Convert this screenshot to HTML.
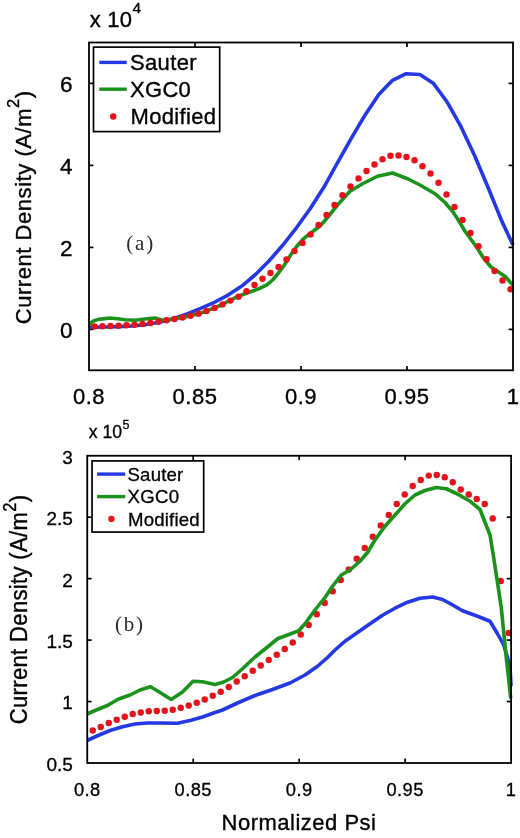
<!DOCTYPE html>
<html><head><meta charset="utf-8"><title>Current Density vs Normalized Psi</title>
<style>
html,body{margin:0;padding:0;background:#fff;}
body{width:520px;height:838px;overflow:hidden;}
svg{display:block;filter:blur(0.35px);}
text{font-family:"Liberation Sans",Arial,Helvetica,sans-serif;fill:#000;}
.t22{font-size:22px;letter-spacing:0.5px;stroke:#000;stroke-width:0.35px;}
.t18{font-size:18.3px;letter-spacing:0.4px;stroke:#000;stroke-width:0.3px;}
.sub{font-family:"Liberation Serif","Noto Serif CJK SC",serif;font-size:21px;letter-spacing:1px;fill:#2a2a2a;}
</style></head><body>
<svg width="520" height="838" viewBox="0 0 520 838">
<rect width="520" height="838" fill="#fff"/>

<g id="plot-a">
<g stroke="#000" stroke-width="1.7"><line x1="195.00" y1="370.30" x2="195.00" y2="365.90"/><line x1="195.00" y1="42.50" x2="195.00" y2="46.90"/><line x1="301.00" y1="370.30" x2="301.00" y2="365.90"/><line x1="301.00" y1="42.50" x2="301.00" y2="46.90"/><line x1="407.00" y1="370.30" x2="407.00" y2="365.90"/><line x1="407.00" y1="42.50" x2="407.00" y2="46.90"/><line x1="89.00" y1="329.40" x2="93.40" y2="329.40"/><line x1="513.00" y1="329.40" x2="508.60" y2="329.40"/><line x1="89.00" y1="247.40" x2="93.40" y2="247.40"/><line x1="513.00" y1="247.40" x2="508.60" y2="247.40"/><line x1="89.00" y1="165.40" x2="93.40" y2="165.40"/><line x1="513.00" y1="165.40" x2="508.60" y2="165.40"/><line x1="89.00" y1="83.40" x2="93.40" y2="83.40"/><line x1="513.00" y1="83.40" x2="508.60" y2="83.40"/></g>
<polyline fill="none" stroke="#2439e3" stroke-width="3.6" stroke-linejoin="round" stroke-linecap="butt" points="89.50,327.41 104.80,327.03 118.50,326.66 132.20,325.94 145.90,324.59 159.60,322.30 173.30,318.78 187.00,314.04 200.70,308.43 214.40,302.27 228.10,295.11 241.80,286.02 255.50,274.50 269.20,260.75 282.90,245.01 296.60,227.53 310.30,208.55 324.00,187.02 337.70,162.49 351.40,138.09 365.10,114.91 378.80,94.40 392.50,80.30 406.20,73.70 419.90,74.50 433.60,83.60 447.30,102.30 461.00,126.71 474.70,155.72 488.40,188.19 502.10,221.87 513.00,244.95"/>
<polyline fill="none" stroke="#1a921c" stroke-width="3.6" stroke-linejoin="round" stroke-linecap="butt" points="89.50,325.20 91.50,322.30 94.00,320.80 98.50,319.40 110.00,318.00 117.50,318.70 125.00,319.75 135.00,320.25 145.00,319.00 155.00,318.00 162.50,320.20 170.00,319.60 185.00,317.00 197.50,314.00 205.00,311.70 220.00,305.50 237.50,296.50 249.20,292.30 258.50,288.90 266.90,284.80 273.10,279.50 279.20,272.00 284.60,264.60 290.80,254.80 296.90,246.20 303.10,239.20 307.70,235.40 313.80,230.80 320.00,226.00 325.00,220.50 337.50,205.00 350.00,191.25 362.50,183.75 377.50,176.25 392.50,173.00 407.50,178.75 420.00,185.00 435.00,193.75 445.00,202.50 452.50,211.25 457.50,218.75 465.00,231.25 476.00,246.25 483.50,258.00 491.00,267.00 498.50,272.00 505.50,276.80 512.70,285.00"/>
<g fill="#ea1019"><circle cx="94.50" cy="326.40" r="3.2"/><circle cx="102.50" cy="326.20" r="3.2"/><circle cx="110.50" cy="326.00" r="3.2"/><circle cx="118.50" cy="325.80" r="3.2"/><circle cx="126.50" cy="325.20" r="3.2"/><circle cx="134.50" cy="324.70" r="3.2"/><circle cx="142.50" cy="324.00" r="3.2"/><circle cx="150.50" cy="323.00" r="3.2"/><circle cx="158.50" cy="321.80" r="3.2"/><circle cx="166.50" cy="320.30" r="3.2"/><circle cx="174.50" cy="319.00" r="3.2"/><circle cx="182.50" cy="317.50" r="3.2"/><circle cx="190.50" cy="315.80" r="3.2"/><circle cx="198.50" cy="313.80" r="3.2"/><circle cx="206.50" cy="311.00" r="3.2"/><circle cx="214.50" cy="308.00" r="3.2"/><circle cx="222.50" cy="304.40" r="3.2"/><circle cx="230.50" cy="300.60" r="3.2"/><circle cx="238.50" cy="296.75" r="3.2"/><circle cx="246.50" cy="291.30" r="3.2"/><circle cx="254.50" cy="285.00" r="3.2"/><circle cx="262.50" cy="278.75" r="3.2"/><circle cx="270.50" cy="273.00" r="3.2"/><circle cx="278.50" cy="267.00" r="3.2"/><circle cx="286.50" cy="259.50" r="3.2"/><circle cx="294.50" cy="251.00" r="3.2"/><circle cx="302.50" cy="243.00" r="3.2"/><circle cx="310.50" cy="234.50" r="3.2"/><circle cx="318.50" cy="225.00" r="3.2"/><circle cx="326.50" cy="215.00" r="3.2"/><circle cx="334.50" cy="205.00" r="3.2"/><circle cx="342.50" cy="195.25" r="3.2"/><circle cx="350.50" cy="186.50" r="3.2"/><circle cx="358.50" cy="178.50" r="3.2"/><circle cx="366.50" cy="171.00" r="3.2"/><circle cx="374.50" cy="164.50" r="3.2"/><circle cx="382.50" cy="159.25" r="3.2"/><circle cx="390.50" cy="155.75" r="3.2"/><circle cx="398.50" cy="155.50" r="3.2"/><circle cx="406.50" cy="157.00" r="3.2"/><circle cx="414.50" cy="160.25" r="3.2"/><circle cx="422.50" cy="166.25" r="3.2"/><circle cx="430.50" cy="173.50" r="3.2"/><circle cx="438.50" cy="182.75" r="3.2"/><circle cx="446.50" cy="194.50" r="3.2"/><circle cx="454.50" cy="207.00" r="3.2"/><circle cx="462.50" cy="220.00" r="3.2"/><circle cx="470.50" cy="233.00" r="3.2"/><circle cx="478.50" cy="246.25" r="3.2"/><circle cx="486.50" cy="259.25" r="3.2"/><circle cx="494.50" cy="271.00" r="3.2"/><circle cx="502.50" cy="280.50" r="3.2"/><circle cx="510.50" cy="289.25" r="3.2"/></g>
<g stroke="#000" stroke-width="1.8" fill="none"><rect x="89.00" y="42.50" width="424.00" height="327.80"/></g>
<text class="t22" x="89.00" y="403.5" text-anchor="middle">0.8</text>
<text class="t22" x="195.00" y="403.5" text-anchor="middle">0.85</text>
<text class="t22" x="301.00" y="403.5" text-anchor="middle">0.9</text>
<text class="t22" x="407.00" y="403.5" text-anchor="middle">0.95</text>
<text class="t22" x="513.00" y="403.5" text-anchor="middle">1</text>
<text class="t22" x="73" y="337.90" text-anchor="end" style="font-size:22.5px">0</text>
<text class="t22" x="73" y="255.90" text-anchor="end" style="font-size:22.5px">2</text>
<text class="t22" x="73" y="173.90" text-anchor="end" style="font-size:22.5px">4</text>
<text class="t22" x="73" y="91.90" text-anchor="end" style="font-size:22.5px">6</text>
<text class="t22" x="89.7" y="26.6" style="letter-spacing:0.2px">x 10<tspan font-size="15.5" dy="-13.8" dx="0.5">4</tspan></text>
<text class="t22" transform="translate(31.3,207.3) rotate(-90)" text-anchor="middle" style="letter-spacing:0.55px">Current Density (A/m<tspan font-size="16.5" dy="-12">2</tspan><tspan dy="12">)</tspan></text>
<text class="sub" x="126.3" y="250.3" style="letter-spacing:1.8px">(a)</text>
<rect x="93.5" y="47.1" width="126.2" height="84.5" fill="#fff" stroke="#000" stroke-width="1.7"/>
<line x1="99.25" x2="126.75" y1="62.4" y2="62.4" stroke="#2439e3" stroke-width="3.4"/>
<line x1="99.25" x2="126.75" y1="89.2" y2="89.2" stroke="#1a921c" stroke-width="3.4"/>
<circle cx="113.2" cy="116.5" r="3.2" fill="#ea1019"/>
<text class="t22" x="130" y="69.8" style="letter-spacing:0.35px">Sauter</text>
<text class="t22" x="130" y="96.7" style="letter-spacing:0.3px">XGC0</text>
<text class="t22" x="130.5" y="124.2" style="letter-spacing:0.35px">Modified</text>
</g>
<g id="plot-b">
<g stroke="#000" stroke-width="1.7"><line x1="193.21" y1="763.00" x2="193.21" y2="758.60"/><line x1="193.21" y1="455.75" x2="193.21" y2="460.15"/><line x1="299.18" y1="763.00" x2="299.18" y2="758.60"/><line x1="299.18" y1="455.75" x2="299.18" y2="460.15"/><line x1="405.14" y1="763.00" x2="405.14" y2="758.60"/><line x1="405.14" y1="455.75" x2="405.14" y2="460.15"/><line x1="87.25" y1="701.55" x2="91.65" y2="701.55"/><line x1="511.10" y1="701.55" x2="506.70" y2="701.55"/><line x1="87.25" y1="640.10" x2="91.65" y2="640.10"/><line x1="511.10" y1="640.10" x2="506.70" y2="640.10"/><line x1="87.25" y1="578.65" x2="91.65" y2="578.65"/><line x1="511.10" y1="578.65" x2="506.70" y2="578.65"/><line x1="87.25" y1="517.20" x2="91.65" y2="517.20"/><line x1="511.10" y1="517.20" x2="506.70" y2="517.20"/></g>
<polyline fill="none" stroke="#2439e3" stroke-width="3.6" stroke-linejoin="round" stroke-linecap="butt" points="87.00,740.50 97.50,735.75 110.00,730.50 122.50,726.75 135.00,724.00 147.50,723.00 160.00,723.00 177.50,723.25 190.00,720.50 202.50,717.00 215.00,712.50 222.50,710.00 237.50,703.00 255.00,695.50 272.50,689.50 290.00,683.00 305.00,675.00 317.50,666.25 327.50,657.50 335.00,650.00 345.00,641.25 357.50,632.50 370.00,623.75 382.50,615.20 395.00,608.20 407.50,602.20 420.00,598.20 432.50,597.00 442.50,599.50 450.00,603.50 462.50,610.75 477.50,616.25 490.00,621.25 497.50,633.75 503.75,645.00 507.50,657.50 510.20,670.00 511.00,686.00"/>
<g fill="#ea1019"><circle cx="92.75" cy="730.50" r="3.2"/><circle cx="100.75" cy="727.00" r="3.2"/><circle cx="108.75" cy="723.00" r="3.2"/><circle cx="116.75" cy="719.75" r="3.2"/><circle cx="124.75" cy="716.75" r="3.2"/><circle cx="132.75" cy="714.00" r="3.2"/><circle cx="140.75" cy="712.50" r="3.2"/><circle cx="148.75" cy="711.25" r="3.2"/><circle cx="156.75" cy="711.00" r="3.2"/><circle cx="164.75" cy="710.75" r="3.2"/><circle cx="172.75" cy="709.75" r="3.2"/><circle cx="180.75" cy="707.75" r="3.2"/><circle cx="188.75" cy="705.50" r="3.2"/><circle cx="196.75" cy="702.75" r="3.2"/><circle cx="204.75" cy="699.50" r="3.2"/><circle cx="212.75" cy="695.75" r="3.2"/><circle cx="220.75" cy="691.75" r="3.2"/><circle cx="228.75" cy="687.00" r="3.2"/><circle cx="236.75" cy="681.50" r="3.2"/><circle cx="244.75" cy="676.25" r="3.2"/><circle cx="252.75" cy="670.75" r="3.2"/><circle cx="260.75" cy="665.50" r="3.2"/><circle cx="268.75" cy="660.00" r="3.2"/><circle cx="276.75" cy="654.75" r="3.2"/><circle cx="284.75" cy="649.00" r="3.2"/><circle cx="292.75" cy="642.50" r="3.2"/><circle cx="300.75" cy="634.50" r="3.2"/><circle cx="308.75" cy="625.00" r="3.2"/><circle cx="316.75" cy="614.25" r="3.2"/><circle cx="324.75" cy="603.00" r="3.2"/><circle cx="332.75" cy="591.25" r="3.2"/><circle cx="340.75" cy="580.00" r="3.2"/><circle cx="348.75" cy="569.50" r="3.2"/><circle cx="356.75" cy="558.75" r="3.2"/><circle cx="364.75" cy="548.00" r="3.2"/><circle cx="372.75" cy="536.75" r="3.2"/><circle cx="380.75" cy="525.50" r="3.2"/><circle cx="388.75" cy="515.00" r="3.2"/><circle cx="396.75" cy="504.00" r="3.2"/><circle cx="404.75" cy="494.50" r="3.2"/><circle cx="412.75" cy="486.00" r="3.2"/><circle cx="420.75" cy="480.00" r="3.2"/><circle cx="428.75" cy="475.60" r="3.2"/><circle cx="436.75" cy="475.00" r="3.2"/><circle cx="444.75" cy="477.25" r="3.2"/><circle cx="452.75" cy="482.25" r="3.2"/><circle cx="460.75" cy="489.50" r="3.2"/><circle cx="468.75" cy="494.50" r="3.2"/><circle cx="476.75" cy="499.00" r="3.2"/><circle cx="484.75" cy="504.00" r="3.2"/><circle cx="492.75" cy="518.50" r="3.2"/><circle cx="500.75" cy="581.00" r="3.2"/><circle cx="508.75" cy="633.00" r="3.2"/></g>
<polyline fill="none" stroke="#1a921c" stroke-width="3.6" stroke-linejoin="round" stroke-linecap="butt" points="87.00,714.00 97.50,709.50 107.50,705.50 117.50,699.50 130.00,695.00 140.00,690.00 150.50,686.75 160.00,692.50 171.25,699.50 182.50,692.00 193.00,681.25 202.50,681.75 215.00,684.50 223.75,682.00 232.50,677.50 242.50,668.75 255.00,657.00 267.50,647.00 277.50,638.75 287.50,635.00 298.75,630.75 305.00,623.75 315.00,610.00 325.00,597.50 332.50,586.25 341.25,575.00 350.00,570.00 360.00,561.25 367.50,552.50 375.00,540.00 385.00,526.25 395.00,515.00 405.00,503.75 415.00,495.00 425.00,490.50 436.25,487.50 446.25,488.75 457.50,494.00 470.00,501.20 480.00,509.50 490.00,535.00 493.75,558.00 497.50,582.50 501.25,607.50 503.75,632.50 506.25,657.50 508.75,680.00 510.70,698.50"/>
<g stroke="#000" stroke-width="1.8" fill="none"><rect x="87.25" y="455.75" width="423.85" height="307.25"/></g>
<text class="t18" x="87.25" y="796" text-anchor="middle">0.8</text>
<text class="t18" x="193.21" y="796" text-anchor="middle">0.85</text>
<text class="t18" x="299.18" y="796" text-anchor="middle">0.9</text>
<text class="t18" x="405.14" y="796" text-anchor="middle">0.95</text>
<text class="t18" x="511.10" y="796" text-anchor="middle">1</text>
<text class="t18" x="72.8" y="770.90" text-anchor="end" style="font-size:19px;letter-spacing:0px">0.5</text>
<text class="t18" x="72.8" y="709.45" text-anchor="end" style="font-size:19px;letter-spacing:0px">1</text>
<text class="t18" x="72.8" y="648.00" text-anchor="end" style="font-size:19px;letter-spacing:0px">1.5</text>
<text class="t18" x="72.8" y="586.55" text-anchor="end" style="font-size:19px;letter-spacing:0px">2</text>
<text class="t18" x="72.8" y="525.10" text-anchor="end" style="font-size:19px;letter-spacing:0px">2.5</text>
<text class="t18" x="72.8" y="463.65" text-anchor="end" style="font-size:19px;letter-spacing:0px">3</text>
<text class="t18" x="88.8" y="438.1" style="font-size:17.6px;letter-spacing:0px">x 10<tspan font-size="12.5" dy="-9.3" dx="0.4">5</tspan></text>
<text class="t22" transform="translate(27.1,609.4) rotate(-90) scale(1,1.06)" text-anchor="middle" style="letter-spacing:0.36px">Current Density (A/m<tspan font-size="16.5" dy="-10.3">2</tspan><tspan dy="10.3">)</tspan></text>
<text class="t22" x="299" y="829.7" text-anchor="middle" style="letter-spacing:0.5px">Normalized Psi</text>
<text class="sub" x="115" y="631.3" style="letter-spacing:1.8px">(b)</text>
<rect x="92.05" y="460.9" width="111.65" height="71.15" fill="#fff" stroke="#000" stroke-width="1.7"/>
<line x1="97.1" x2="125.2" y1="474.1" y2="474.1" stroke="#2439e3" stroke-width="3.4"/>
<line x1="97.1" x2="125.2" y1="496.6" y2="496.6" stroke="#1a921c" stroke-width="3.4"/>
<circle cx="111.4" cy="518.9" r="3.15" fill="#ea1019"/>
<text class="t18" x="127.5" y="480.7" style="font-size:18.6px;letter-spacing:0.2px">Sauter</text>
<text class="t18" x="127.5" y="503.2" style="font-size:18.6px;letter-spacing:0.3px">XGC0</text>
<text class="t18" x="128" y="525.8" style="font-size:18.6px;letter-spacing:0.2px">Modified</text>
</g>
</svg></body></html>
